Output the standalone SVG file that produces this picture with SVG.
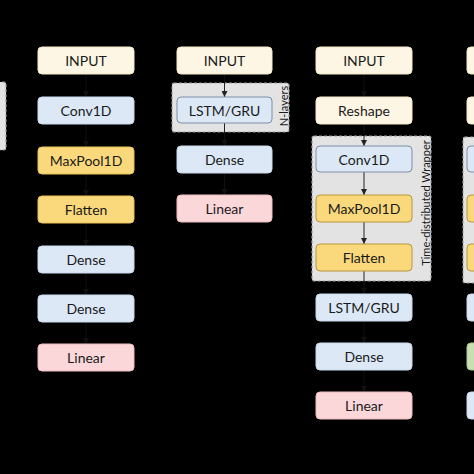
<svg xmlns="http://www.w3.org/2000/svg" width="474" height="474" viewBox="0 0 474 474">
<defs>
<style>
.lbl{font-family:Lato,"Open Sans","Liberation Sans",sans-serif;font-size:14px;fill:#1a1a1a;text-anchor:middle;dominant-baseline:central}
.side{font-family:Lato,"Open Sans","Liberation Sans",sans-serif;font-size:11px;fill:#1a1a1a;text-anchor:middle;dominant-baseline:central}
.cream{fill:#fdf6e4;stroke:#f3e8c8;stroke-width:1}
.blue{fill:#dce8f6;stroke:#c9d9ec;stroke-width:1}
.yellow{fill:#fad97c;stroke:#eac25a;stroke-width:1}
.pink{fill:#fbd7da;stroke:#eebcc1;stroke-width:1}
.green{fill:#c6e0b4;stroke:#a9cc93;stroke-width:1}
.blueIn{fill:#dce8f6;stroke:#7d8ea6;stroke-width:1}
.yellowIn{fill:#fad97c;stroke:#b8983a;stroke-width:1}
.wrap{fill:#e3e3e3;stroke:#9a9a9a;stroke-width:1.2;stroke-dasharray:3 2}
.conn{stroke:#101010;stroke-width:1;fill:none}
.inner{stroke:#222;stroke-width:1;fill:none}
</style>
<marker id="ah" viewBox="0 0 6 6" refX="6" refY="3" markerWidth="6" markerHeight="6" orient="auto" markerUnits="userSpaceOnUse">
<path d="M0,0 L6,3 L0,6 Z" fill="#222"/>
</marker>
<marker id="ahd" viewBox="0 0 6 6" refX="6" refY="3" markerWidth="6" markerHeight="6" orient="auto" markerUnits="userSpaceOnUse">
<path d="M0,0 L6,3 L0,6 Z" fill="#101010"/>
</marker>
</defs>
<rect x="0" y="0" width="474" height="474" fill="#000"/>

<!-- containers -->
<g id="wrap0"><rect class="wrap" x="-110" y="82" width="116" height="68" rx="2"/></g>
<g id="wrap2"><rect class="wrap" x="172" y="83" width="117" height="49" rx="2"/><text class="side" transform="translate(283,106) rotate(-90)">N-layers</text></g>
<g id="wrap3"><rect class="wrap" x="312" y="136" width="119" height="145" rx="2"/><text class="side" transform="translate(425,203) rotate(-90)">Time-distributed Wrapper</text></g>
<g id="wrap4"><rect class="wrap" x="463" y="137" width="60" height="146" rx="2"/></g>

<!-- connectors -->
<g id="connectors">
<line class="conn" x1="86" y1="74" x2="86" y2="97" marker-end="url(#ahd)"/>
<line class="conn" x1="86" y1="124" x2="86" y2="147" marker-end="url(#ahd)"/>
<line class="conn" x1="86" y1="174" x2="86" y2="196" marker-end="url(#ahd)"/>
<line class="conn" x1="86" y1="223" x2="86" y2="246" marker-end="url(#ahd)"/>
<line class="conn" x1="86" y1="273" x2="86" y2="295" marker-end="url(#ahd)"/>
<line class="conn" x1="86" y1="322" x2="86" y2="344" marker-end="url(#ahd)"/>

<line class="conn" x1="224.5" y1="74" x2="224.5" y2="83"/>
<line class="inner" x1="224.5" y1="83" x2="224.5" y2="97" marker-end="url(#ah)"/>
<line class="inner" x1="224.5" y1="123" x2="224.5" y2="132"/>
<line class="conn" x1="224.5" y1="132" x2="224.5" y2="146" marker-end="url(#ahd)"/>
<line class="conn" x1="224.5" y1="173" x2="224.5" y2="195" marker-end="url(#ahd)"/>

<line class="conn" x1="364" y1="74" x2="364" y2="97" marker-end="url(#ahd)"/>
<line class="conn" x1="364" y1="124" x2="364" y2="136"/>
<line class="inner" x1="364" y1="136" x2="364" y2="146" marker-end="url(#ah)"/>
<line class="inner" x1="364" y1="172" x2="364" y2="195" marker-end="url(#ah)"/>
<line class="inner" x1="364" y1="222" x2="364" y2="244" marker-end="url(#ah)"/>
<line class="inner" x1="364" y1="271" x2="364" y2="281"/>
<line class="conn" x1="364" y1="281" x2="364" y2="294" marker-end="url(#ahd)"/>
<line class="conn" x1="364" y1="321" x2="364" y2="343" marker-end="url(#ahd)"/>
<line class="conn" x1="364" y1="370" x2="364" y2="392" marker-end="url(#ahd)"/>
</g>

<!-- column 1 -->
<g id="c1-input"><rect class="cream" x="38" y="47" width="96" height="27" rx="4"/><text class="lbl" x="86" y="60.5">INPUT</text></g>
<g id="c1-conv"><rect class="blue" x="38" y="97" width="96" height="27" rx="4"/><text class="lbl" x="86" y="110.5">Conv1D</text></g>
<g id="c1-pool"><rect class="yellow" x="38" y="147" width="96" height="27" rx="4"/><text class="lbl" x="86" y="160.5">MaxPool1D</text></g>
<g id="c1-flat"><rect class="yellow" x="38" y="196" width="96" height="27" rx="4"/><text class="lbl" x="86" y="209.5">Flatten</text></g>
<g id="c1-dense1"><rect class="blue" x="38" y="246" width="96" height="27" rx="4"/><text class="lbl" x="86" y="259.5">Dense</text></g>
<g id="c1-dense2"><rect class="blue" x="38" y="295" width="96" height="27" rx="4"/><text class="lbl" x="86" y="308.5">Dense</text></g>
<g id="c1-linear"><rect class="pink" x="38" y="344" width="96" height="27" rx="4"/><text class="lbl" x="86" y="357.5">Linear</text></g>

<!-- column 2 -->
<g id="c2-input"><rect class="cream" x="177" y="47" width="95" height="27" rx="4"/><text class="lbl" x="224.5" y="60.5">INPUT</text></g>
<g id="c2-lstm"><rect class="blueIn" x="177" y="97" width="95" height="26" rx="4"/><text class="lbl" x="224.5" y="110">LSTM/GRU</text></g>
<g id="c2-dense"><rect class="blue" x="177" y="146" width="95" height="27" rx="4"/><text class="lbl" x="224.5" y="159.5">Dense</text></g>
<g id="c2-linear"><rect class="pink" x="177" y="195" width="95" height="27" rx="4"/><text class="lbl" x="224.5" y="208.5">Linear</text></g>

<!-- column 3 -->
<g id="c3-input"><rect class="cream" x="316" y="47" width="96" height="27" rx="4"/><text class="lbl" x="364" y="60.5">INPUT</text></g>
<g id="c3-reshape"><rect class="cream" x="316" y="97" width="96" height="27" rx="4"/><text class="lbl" x="364" y="110.5">Reshape</text></g>
<g id="c3-conv"><rect class="blueIn" x="316" y="146" width="96" height="26" rx="4"/><text class="lbl" x="364" y="159">Conv1D</text></g>
<g id="c3-pool"><rect class="yellowIn" x="316" y="195" width="96" height="27" rx="4"/><text class="lbl" x="364" y="208.5">MaxPool1D</text></g>
<g id="c3-flat"><rect class="yellowIn" x="316" y="244" width="96" height="27" rx="4"/><text class="lbl" x="364" y="257.5">Flatten</text></g>
<g id="c3-lstm"><rect class="blue" x="316" y="294" width="96" height="27" rx="4"/><text class="lbl" x="364" y="307.5">LSTM/GRU</text></g>
<g id="c3-dense"><rect class="blue" x="316" y="343" width="96" height="27" rx="4"/><text class="lbl" x="364" y="356.5">Dense</text></g>
<g id="c3-linear"><rect class="pink" x="316" y="392" width="96" height="27" rx="4"/><text class="lbl" x="364" y="405.5">Linear</text></g>

<!-- column 4 (cut off) -->
<g id="c4-b1"><rect class="cream" x="467" y="47" width="96" height="27" rx="4"/></g>
<g id="c4-b2"><rect class="cream" x="467" y="97" width="96" height="27" rx="4"/></g>
<g id="c4-b3"><rect class="blueIn" x="467" y="146" width="96" height="26" rx="4"/></g>
<g id="c4-b4"><rect class="yellowIn" x="467" y="195" width="96" height="27" rx="4"/></g>
<g id="c4-b5"><rect class="yellowIn" x="467" y="244" width="96" height="27" rx="4"/></g>
<g id="c4-b6"><rect class="blue" x="467" y="294" width="96" height="27" rx="4"/></g>
<g id="c4-b7"><rect class="green" x="467" y="343" width="96" height="27" rx="4"/></g>
<g id="c4-b8"><rect class="blue" x="467" y="392" width="96" height="27" rx="4"/></g>
</svg>
